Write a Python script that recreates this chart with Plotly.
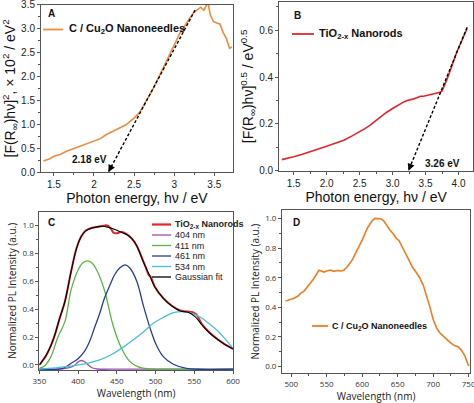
import plotly.graph_objects as go

W, H = 474, 403

# ---------------- Panel A: C / Cu2O Tauc plot ----------------
A_energy = [1.37, 1.45, 1.50, 1.58, 1.65, 1.73, 1.82, 1.90, 2.00, 2.08, 2.15, 2.24, 2.32, 2.40,
            2.45, 2.50, 2.57, 2.65, 2.74, 2.82, 2.90, 2.99, 3.07, 3.10, 3.15, 3.24, 3.30, 3.33,
            3.37, 3.42, 3.45, 3.49, 3.53, 3.57, 3.61, 3.65, 3.69, 3.72]
A_value = [0.23, 0.28, 0.33, 0.37, 0.43, 0.48, 0.54, 0.58, 0.65, 0.70, 0.78, 0.85, 0.92, 0.99,
           1.06, 1.13, 1.25, 1.48, 1.75, 2.03, 2.31, 2.62, 2.90, 2.97, 3.11, 3.33, 3.42, 3.45,
           3.39, 3.55, 3.29, 3.15, 3.12, 3.10, 2.92, 2.80, 2.59, 2.62]
A_tangent_x = [3.26, 2.18]
A_tangent_y = [3.39, 0.0]
A_gap_label = "2.18 eV"

# ---------------- Panel B: TiO2-x Tauc plot ----------------
B_energy = [1.32, 1.40, 1.50, 1.62, 1.75, 1.88, 2.00, 2.13, 2.26, 2.38, 2.50, 2.58, 2.66, 2.74,
            2.81, 2.90, 3.00, 3.06, 3.12, 3.17, 3.22, 3.27, 3.32, 3.37, 3.42, 3.47, 3.52, 3.60,
            3.67, 3.72, 3.75, 3.78, 3.82, 3.87, 3.92, 3.97, 4.03, 4.08, 4.13]
B_value = [0.048, 0.052, 0.060, 0.070, 0.081, 0.093, 0.105, 0.118, 0.131, 0.148, 0.166, 0.180,
           0.195, 0.212, 0.230, 0.248, 0.266, 0.277, 0.287, 0.294, 0.300, 0.302, 0.307, 0.312,
           0.318, 0.318, 0.321, 0.325, 0.330, 0.335, 0.341, 0.360, 0.387, 0.425, 0.465, 0.505,
           0.543, 0.575, 0.607]
B_tangent_x = [4.13, 3.24]
B_tangent_y = [0.612, 0.0]
B_gap_label = "3.26 eV"

# ---------------- Panel C: TiO2-x PL with Gaussian components ----------------
C_wl_fit = [350, 359, 365, 370, 376, 383, 391, 398, 404, 410, 418, 426, 432, 439, 445, 450,
            458, 464, 470, 476, 484, 491, 499, 510, 521, 532, 542, 551, 560, 570, 581, 590, 600]
C_fit = [0.0, 0.072, 0.14, 0.215, 0.33, 0.453, 0.668, 0.835, 0.918, 0.96, 0.98, 0.99, 0.993,
         0.985, 0.975, 0.965, 0.945, 0.93, 0.90, 0.85, 0.74, 0.656, 0.56, 0.477, 0.422, 0.387,
         0.377, 0.346, 0.286, 0.227, 0.179, 0.145, 0.115]
C_wl_data = [350, 359, 365, 370, 376, 383, 391, 398, 404, 410, 418, 426, 432, 436, 439, 443,
             446, 450, 454, 458, 464, 470, 476, 484, 488, 491, 494, 499, 510, 521, 532, 542,
             548, 553, 560, 570, 581, 590, 600]
C_data = [0.0, 0.07, 0.14, 0.215, 0.33, 0.455, 0.67, 0.835, 0.92, 0.962, 0.982, 0.99, 0.995,
          1.0, 0.995, 0.97, 0.945, 0.943, 0.95, 0.95, 0.93, 0.90, 0.85, 0.745, 0.69, 0.645,
          0.63, 0.56, 0.478, 0.424, 0.39, 0.382, 0.378, 0.36, 0.29, 0.23, 0.18, 0.146, 0.115]
C_wl_404 = [350, 380, 390, 396, 400, 404, 408, 412, 418, 425, 450, 500, 550, 600]
C_404 = [-0.03, -0.028, -0.018, 0.0, 0.022, 0.032, 0.025, 0.006, -0.02, -0.029, -0.03, -0.03, -0.03, -0.03]
C_wl_411 = [350, 357, 365, 374, 383, 391, 400, 406, 412, 418, 424, 434, 445, 456, 467, 477,
            490, 520, 600]
C_411 = [-0.025, -0.005, 0.06, 0.2, 0.31, 0.537, 0.68, 0.73, 0.745, 0.73, 0.68, 0.537, 0.286,
         0.12, 0.024, -0.012, -0.027, -0.03, -0.03]
C_wl_461 = [350, 380, 391, 400, 408, 415, 421, 428, 434, 441, 447, 454, 461, 467, 476, 484,
            493, 501, 510, 523, 540, 600]
C_461 = [-0.03, -0.025, 0.012, 0.045, 0.095, 0.17, 0.263, 0.37, 0.477, 0.57, 0.644, 0.695,
         0.716, 0.692, 0.596, 0.43, 0.263, 0.143, 0.06, 0.005, -0.025, -0.03]
C_wl_534 = [350, 385, 410, 428, 445, 460, 471, 485, 497, 510, 522, 534, 545, 557, 568, 579,
            590, 600]
C_534 = [-0.03, -0.012, 0.01, 0.036, 0.08, 0.135, 0.179, 0.24, 0.298, 0.34, 0.372, 0.382,
         0.372, 0.345, 0.30, 0.25, 0.185, 0.12]

# ---------------- Panel D: C / Cu2O PL ----------------
D_wl = [492, 498, 504, 510, 513, 518, 525, 532, 539, 543, 546, 550, 555, 560, 565, 570, 574,
        579, 586, 593, 600, 607, 614, 618, 622, 626, 630, 635, 639, 644, 648, 652, 658, 665,
        671, 677, 681, 686, 690, 695, 700, 705, 709, 715, 721, 726, 730, 735, 740, 745, 750]
D_int = [0.443, 0.45, 0.462, 0.478, 0.494, 0.51, 0.55, 0.595, 0.65, 0.645, 0.638, 0.645,
         0.652, 0.643, 0.648, 0.645, 0.65, 0.674, 0.72, 0.787, 0.854, 0.933, 0.984, 1.0, 1.0,
         0.998, 0.985, 0.945, 0.922, 0.895, 0.866, 0.85, 0.79, 0.73, 0.67, 0.63, 0.6, 0.55,
         0.49, 0.41, 0.32, 0.26, 0.23, 0.2, 0.175, 0.155, 0.142, 0.135, 0.11, 0.07, 0.005]

ORANGE_A = "#f28a3c"
ORANGE_D = "#f47b20"
RED = "#e3262b"
PURPLE = "#9a52b8"
GREEN = "#5cb545"
BLUE = "#2b3c98"
CYAN = "#45c2d8"

fig = go.Figure()

# A
fig.add_trace(go.Scatter(x=A_energy, y=A_value, mode="lines", line=dict(color=ORANGE_A, width=1.6),
                         xaxis="x", yaxis="y", showlegend=False, name="C / Cu2O Nanoneedles"))
fig.add_trace(go.Scatter(x=A_tangent_x, y=A_tangent_y, mode="lines",
                         line=dict(color="black", width=1.4, dash="3px,2px"),
                         xaxis="x", yaxis="y", showlegend=False))
# B
fig.add_trace(go.Scatter(x=B_energy, y=B_value, mode="lines", line=dict(color=RED, width=1.6),
                         xaxis="x2", yaxis="y2", showlegend=False, name="TiO2-x Nanorods"))
fig.add_trace(go.Scatter(x=B_tangent_x, y=B_tangent_y, mode="lines",
                         line=dict(color="black", width=1.4, dash="3px,2px"),
                         xaxis="x2", yaxis="y2", showlegend=False))
# C
fig.add_trace(go.Scatter(x=C_wl_data, y=C_data, mode="lines", line=dict(color=RED, width=2.0, shape="spline"),
                         xaxis="x3", yaxis="y3", showlegend=False))
fig.add_trace(go.Scatter(x=C_wl_404, y=C_404, mode="lines", line=dict(color=PURPLE, width=1.3, shape="spline"),
                         xaxis="x3", yaxis="y3", showlegend=False))
fig.add_trace(go.Scatter(x=C_wl_411, y=C_411, mode="lines", line=dict(color=GREEN, width=1.3, shape="spline"),
                         xaxis="x3", yaxis="y3", showlegend=False))
fig.add_trace(go.Scatter(x=C_wl_461, y=C_461, mode="lines", line=dict(color=BLUE, width=1.3, shape="spline"),
                         xaxis="x3", yaxis="y3", showlegend=False))
fig.add_trace(go.Scatter(x=C_wl_534, y=C_534, mode="lines", line=dict(color=CYAN, width=1.3, shape="spline"),
                         xaxis="x3", yaxis="y3", showlegend=False))
fig.add_trace(go.Scatter(x=C_wl_fit, y=C_fit, mode="lines", line=dict(color="black", width=1.1, shape="spline"),
                         xaxis="x3", yaxis="y3", showlegend=False))
# D
fig.add_trace(go.Scatter(x=D_wl, y=D_int, mode="lines", line=dict(color=ORANGE_D, width=1.6),
                         xaxis="x4", yaxis="y4", showlegend=False))

FONT = "Arial, Liberation Sans, sans-serif"
FONT2 = "Open Sans, Arial, sans-serif"
AX = dict(showline=True, mirror=True, linecolor="#555", linewidth=1, ticks="outside",
          ticklen=3, tickcolor="#555", showgrid=False, zeroline=False, automargin=False,
          ticklabeloverflow="allow")


def ax(**kw):
    d = dict(AX)
    d.update(kw)
    return d


TF_AB = dict(family=FONT, size=10, color="#222")
TF_CD = dict(family=FONT2, size=8, color="#333")
TT_AB = dict(family=FONT, size=14, color="#111")
TT_CD = dict(family=FONT2, size=10, color="#222")

yA_title = "[F(R<sub>∞</sub>)hν]<sup>2</sup>, × 10<sup>2</sup> / eV<sup>2</sup>"
yB_title = "[F(R<sub>∞</sub>)hν]<sup>0.5</sup> / eV<sup>0.5</sup>"
x_title_AB = "Photon energy, hν / eV"

fig.update_layout(
    width=W, height=H, margin=dict(l=0, r=0, t=0, b=0),
    paper_bgcolor="white", plot_bgcolor="white", showlegend=False,
    xaxis=ax(domain=[0.0865, 0.491], range=[1.34, 3.73], anchor="y", dtick=0.5, tick0=1.5,
             tickfont=TF_AB, title=dict(text=x_title_AB, font=TT_AB, standoff=1),
             minor=dict(ticks="outside", ticklen=2, dtick=0.25, tickcolor="#555")),
    yaxis=ax(domain=[0.573, 0.988], range=[0, 3.5], anchor="x", dtick=0.5, tickformat=".1f",
             tickfont=TF_AB, title=dict(text=yA_title, font=TT_AB, standoff=2),
             minor=dict(ticks="outside", ticklen=2, dtick=0.25, tickcolor="#555")),
    xaxis2=ax(domain=[0.589, 0.998], range=[1.28, 4.22], anchor="y2", dtick=0.5, tick0=1.5,
              tickfont=TF_AB, tickformat=".1f", title=dict(text=x_title_AB, font=TT_AB, standoff=1),
              minor=dict(ticks="outside", ticklen=2, dtick=0.25, tickcolor="#555")),
    yaxis2=ax(domain=[0.576, 0.995], range=[0, 0.72], anchor="x2", dtick=0.2, tickformat=".1f",
              tickfont=TF_AB, title=dict(text=yB_title, font=TT_AB, standoff=2),
              minor=dict(ticks="outside", ticklen=2, dtick=0.1, tickcolor="#555")),
    xaxis3=ax(domain=[0.083, 0.4916], range=[350, 600], anchor="y3", dtick=50,
              tickfont=TF_CD, title=dict(text="Wavelength (nm)", font=TT_CD, standoff=2),
              minor=dict(ticks="outside", ticklen=2, dtick=25, tickcolor="#555")),
    yaxis3=ax(domain=[0.0819, 0.4747], range=[-0.036, 1.097], anchor="x3", dtick=0.2, tickformat=".1f",
              tickfont=TF_CD, title=dict(text="Normalized PL Intensity (a.u.)", font=TT_CD, standoff=3),
              minor=dict(ticks="outside", ticklen=2, dtick=0.1, tickcolor="#555")),
    xaxis4=ax(domain=[0.595, 0.9916], range=[487, 752], anchor="y4", dtick=50, tick0=500,
              tickfont=TF_CD, title=dict(text="Wavelength (nm)", font=TT_CD, standoff=2),
              minor=dict(ticks="outside", ticklen=2, dtick=25, tickcolor="#555")),
    yaxis4=ax(domain=[0.0737, 0.479], range=[-0.045, 1.057], anchor="x4", dtick=0.2, tickformat=".1f",
              tickfont=TF_CD, title=dict(text="Normalized PL Intensity (a.u.)", font=TT_CD, standoff=3),
              minor=dict(ticks="outside", ticklen=2, dtick=0.1, tickcolor="#555")),
)


def px(x):
    return x / W


def py(y):
    return 1 - y / H


annotations = []
shapes = []


def label(x, y, text, size, bold=False, family=FONT, xanchor="left", color="#111"):
    t = f"<b>{text}</b>" if bold else text
    annotations.append(dict(x=px(x), y=py(y), xref="paper", yref="paper", text=t, showarrow=False,
                            xanchor=xanchor, yanchor="middle", font=dict(family=family, size=size, color=color)))


def legline(x0, x1, y, color, width):
    shapes.append(dict(type="line", xref="paper", yref="paper", x0=px(x0), x1=px(x1), y0=py(y), y1=py(y),
                       line=dict(color=color, width=width)))


# Panel letters
label(46, 14, "A", 10, bold=True)
label(292, 15, "B", 10, bold=True)
label(46, 222, "C", 10, bold=True)
label(291, 222, "D", 10, bold=True)

# Legends
legline(43, 63, 29.5, ORANGE_A, 1.8)
label(67, 29.5, "C / Cu<sub>2</sub>O Nanoneedles", 11, bold=True)
legline(292, 314, 34, RED, 1.8)
label(317, 34, "TiO<sub>2-x</sub> Nanorods", 11, bold=True)

leg_rows = [("<b>TiO<sub>2-x</sub> Nanorods</b>", RED, 2.2),
            ("404 nm", PURPLE, 1.3), ("411 nm", GREEN, 1.3), ("461 nm", BLUE, 1.3),
            ("534 nm", CYAN, 1.3), ("Gaussian fit", "black", 1.3)]
for i, (txt, col, wd) in enumerate(leg_rows):
    yy = 224.5 + i * 10.5
    legline(152, 171, yy, col, wd)
    label(173, yy, txt, 9, family=FONT, color="#222")

legline(312, 328, 326, ORANGE_D, 1.8)
label(330, 326, "C / Cu<sub>2</sub>O Nanoneedles", 9, bold=True)

# Band gap annotations
annotations.append(dict(x=1.95, y=0.26, xref="x", yref="y", text=f"<b>{A_gap_label}</b>", showarrow=False,
                        font=dict(family=FONT, size=10, color="#111")))
annotations.append(dict(x=3.75, y=0.032, xref="x2", yref="y2", text=f"<b>{B_gap_label}</b>", showarrow=False,
                        font=dict(family=FONT, size=10, color="#111")))
# Arrow heads at the tangent intercepts
annotations.append(dict(x=A_tangent_x[1], y=A_tangent_y[1], xref="x", yref="y", ax=2.23, ay=0.16,
                        axref="x", ayref="y", text="", showarrow=True, arrowhead=2, arrowsize=1.1,
                        arrowwidth=1.3, arrowcolor="black"))
annotations.append(dict(x=B_tangent_x[1], y=B_tangent_y[1], xref="x2", yref="y2", ax=3.28, ay=0.028,
                        axref="x2", ayref="y2", text="", showarrow=True, arrowhead=2, arrowsize=1.1,
                        arrowwidth=1.3, arrowcolor="black"))

fig.update_layout(annotations=annotations, shapes=shapes)
fig.write_html("out.html")
